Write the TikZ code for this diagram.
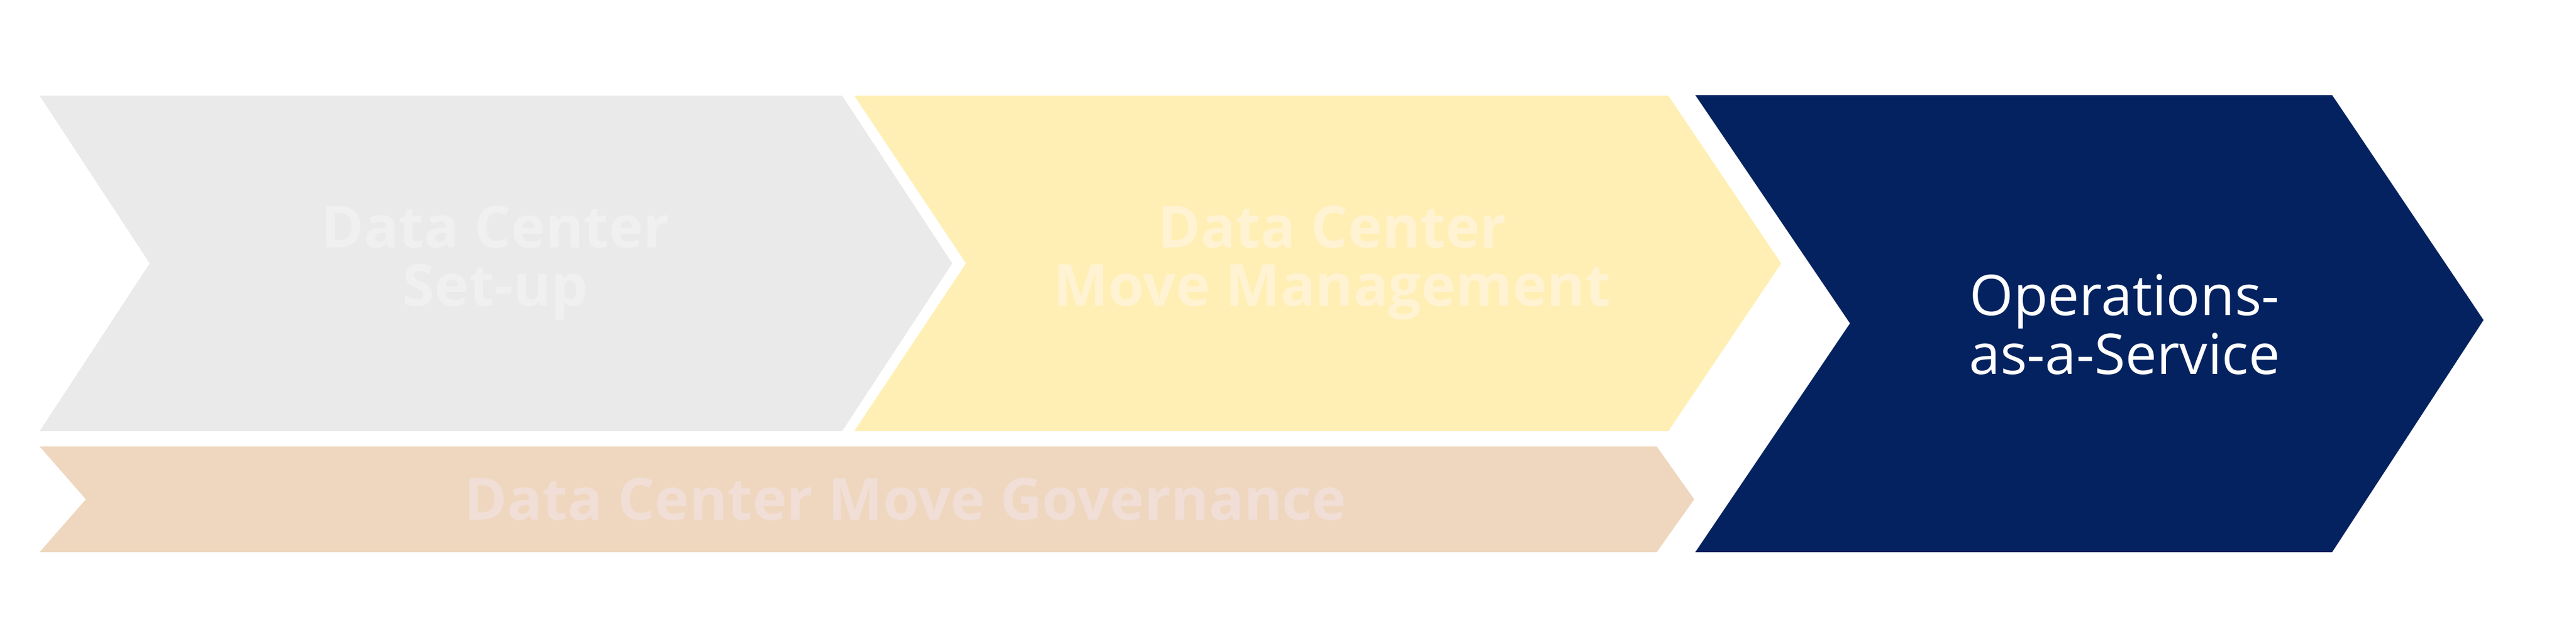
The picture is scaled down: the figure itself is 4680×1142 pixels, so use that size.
\documentclass[tikz,border=0pt]{standalone}
\usepackage{fontspec}
\setmainfont{Open Sans}
\definecolor{setupgray}{HTML}{EAEAEA}
\definecolor{setuptext}{HTML}{F0F0F0}
\definecolor{moveyellow}{HTML}{FFEFB4}
\definecolor{movetext}{HTML}{FFF3D3}
\definecolor{govbeige}{HTML}{EFD7BF}
\definecolor{govtext}{HTML}{F1DED6}
\definecolor{opsnavy}{HTML}{03225F}
\begin{document}
\begin{tikzpicture}[x=0.01cm, y=-0.01cm,
    phase/.style={align=center, inner sep=0pt, font=\fontsize{30}{30}\selectfont\bfseries}]
    \useasboundingbox (0,0) rectangle (4680,1142);

    % Upper chevrons
    \fill[setupgray] (72,174) -- (1530,174) -- (1730,479) -- (1530,784) -- (72,784) -- (272,479) -- cycle;
    \fill[moveyellow] (1552,174) -- (3031,174) -- (3236,479) -- (3031,784) -- (1552,784) -- (1755,479) -- cycle;

    % Governance bar
    \fill[govbeige] (72,812) -- (3010,812) -- (3078,908) -- (3010,1004) -- (72,1004) -- (156,908) -- cycle;

    % Final chevron
    \fill[opsnavy] (3080,173) -- (4237,173) -- (4512,582) -- (4237,1004) -- (3080,1004) -- (3361,588) -- cycle;

    % Labels
    \node[phase, text=setuptext] (SETUP) at (900,478) {Data Center\\Set-up};
    \node[phase, text=movetext] (MOVE) at (2420,478) {Data Center\\Move Management};
    \node[phase, text=govtext] (GOV) at (1645,908) {Data Center Move Governance};
    \node[phase, text=white, font=\fontsize{29}{30.5}\selectfont] (OPS) at (3860,590) {Operations-\\as-a-Service};
\end{tikzpicture}
\end{document}
